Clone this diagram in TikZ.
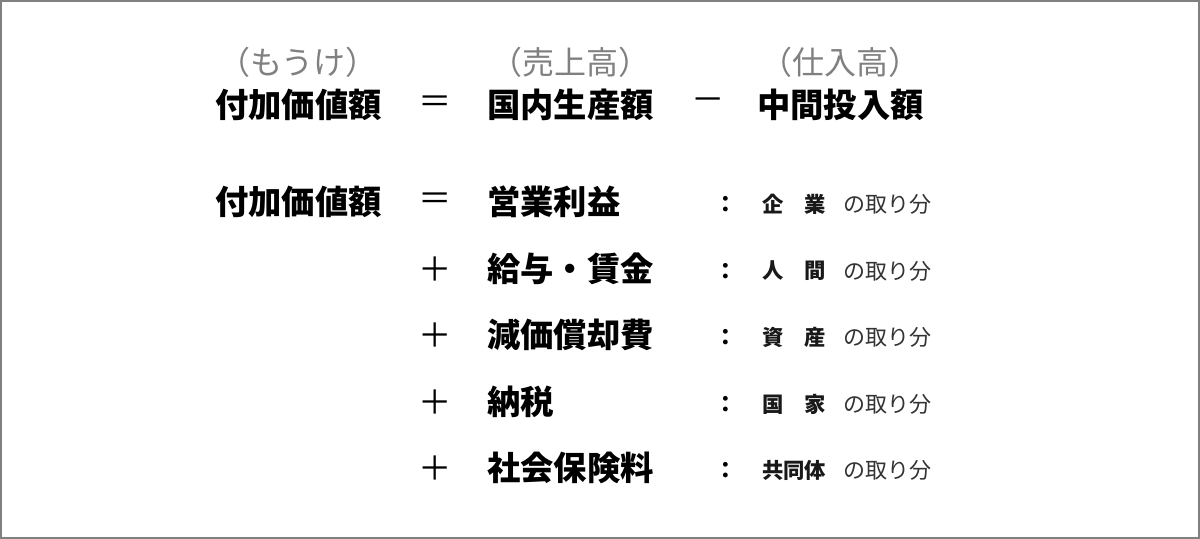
\documentclass[tikz,border=0pt]{standalone}
\usepackage{fontspec}
\setmainfont{Noto Sans CJK JP}
\usepackage{tikz}
\usetikzlibrary{positioning}

\tikzset{
  term/.style={anchor=west, inner sep=0pt, font=\fontsize{25}{25}\selectfont\bfseries},
  oper/.style={anchor=center, inner sep=0pt, font=\fontsize{25}{25}\selectfont},
  colon/.style={anchor=center, inner sep=0pt, font=\fontsize{17}{17}\selectfont\bfseries},
  note/.style={anchor=center, inner sep=0pt, text=black!50, font=\fontsize{24}{24}\selectfont},
  who/.style={anchor=west, inner sep=0pt, text=black!90, font=\fontsize{16}{16}\selectfont\bfseries},
  share/.style={anchor=west, inner sep=0pt, text=black!80, font=\fontsize{16.5}{16.5}\selectfont},
}

\begin{document}
\begin{tikzpicture}[x=0.75pt,y=0.75pt,yscale=-1,xscale=1]
  \useasboundingbox (0,0) rectangle (1200,539);
  % frame
  \draw [color={rgb, 255:red, 128; green, 128; blue, 128 }, line width=1.5pt] (1,1) rectangle (1199,538);

  % Text Node: readings
  \node (n_mouke) [note] at (298,62) {（もうけ）};
  \node (n_uriage) [note] at (570,62) {（売上高）};
  \node (n_shiire) [note] at (840,62) {（仕入高）};

  % Text Node: first line
  \node (v1) [term] at (215,105) {付加価値額};
  \node (eq1) [oper] at (435,105) {＝};
  \node (gdp) [term] at (487,105) {国内生産額};
  \node (mi1) [oper] at (708,105) {－};
  \node (inp) [term] at (757,105) {中間投入額};

  % Text Node: second block
  \node (v2) [term] at (215,202) {付加価値額};
  \node (eq2) [oper] at (435,202) {＝};
  \node (t1) [term] at (487,202) {営業利益};
  \node (c1) [colon] at (726,204) {：};
  \node (w1) [who] at (762,204) {企　業};
  \node (s1) [share] at (843,204) {の取り分};

  \node (p2) [oper] at (435,269) {＋};
  \node (t2) [term] at (487,269) {給与・賃金};
  \node (c2) [colon] at (726,271) {：};
  \node (w2) [who] at (762,271) {人　間};
  \node (s2) [share] at (843,271) {の取り分};

  \node (p3) [oper] at (435,335) {＋};
  \node (t3) [term] at (487,335) {減価償却費};
  \node (c3) [colon] at (726,337) {：};
  \node (w3) [who] at (762,337) {資　産};
  \node (s3) [share] at (843,337) {の取り分};

  \node (p4) [oper] at (435,402) {＋};
  \node (t4) [term] at (487,402) {納税};
  \node (c4) [colon] at (726,404) {：};
  \node (w4) [who] at (762,404) {国　家};
  \node (s4) [share] at (843,404) {の取り分};

  \node (p5) [oper] at (435,468) {＋};
  \node (t5) [term] at (487,468) {社会保険料};
  \node (c5) [colon] at (726,470) {：};
  \node (w5) [who] at (762,470) {共同体};
  \node (s5) [share] at (843,470) {の取り分};
\end{tikzpicture}
\end{document}
